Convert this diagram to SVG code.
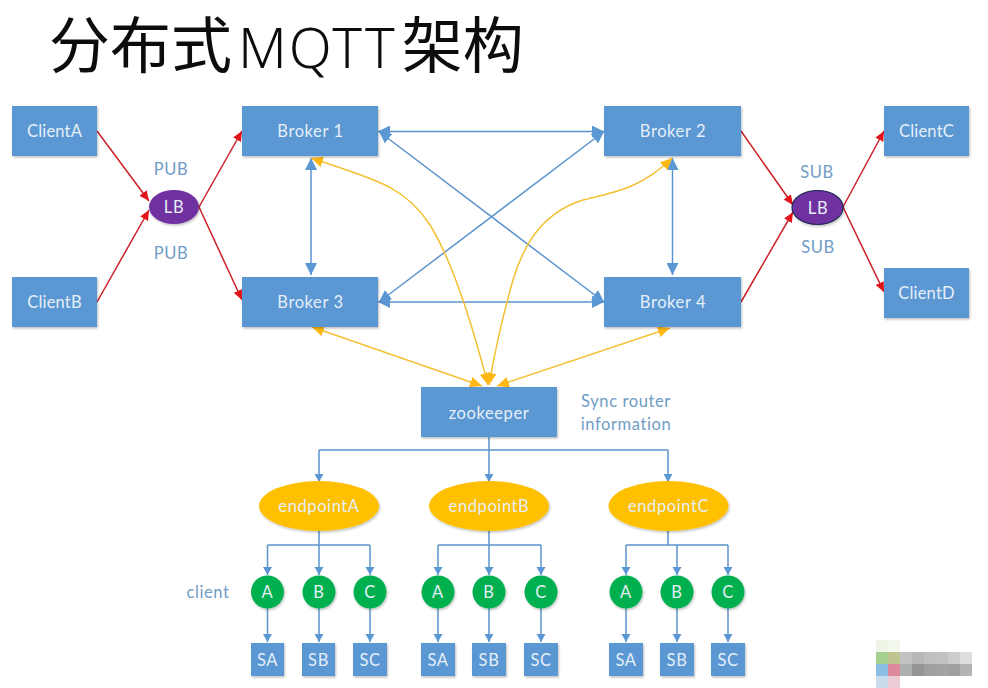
<svg xmlns="http://www.w3.org/2000/svg" width="988" height="688" viewBox="0 0 988 688">
<style>
text{font-family:"Lato","Noto Sans",sans-serif;text-anchor:middle;letter-spacing:.6px}
.b{fill:#5a97d3;filter:url(#s)}
.w{fill:#e6eff8;font-size:16.5px}
.cl{letter-spacing:.2px}
.l{fill:#6f9cc6;font-size:16.5px}
.e{fill:#ffc000;filter:url(#s)}
.g{fill:#00b050;filter:url(#s)}
.p{fill:#7030a0;filter:url(#s)}
.po{stroke:#1c2a55;stroke-width:1.2}
.cb{fill:none;stroke:#5b94cc;stroke-width:1.5}
.bi{marker-start:url(#ab);marker-end:url(#ab)}
.one{marker-end:url(#as)}
.cr{fill:none;stroke:#cc2027;stroke-width:1.5;marker-end:url(#ar)}
.cy{fill:none;stroke:#f4c032;stroke-width:1.5;marker-start:url(#ay);marker-end:url(#ay)}
.t{font-family:"Noto Sans CJK SC","Noto Sans",sans-serif;font-size:61px;font-weight:400;letter-spacing:0;fill:#0c0c0c;text-anchor:start}
.tl{font-family:"Noto Sans",sans-serif;font-size:56px;font-weight:300;letter-spacing:2px}
</style>
<defs>
<filter id="s" x="-10%" y="-10%" width="125%" height="130%"><feDropShadow dx="1" dy="1.5" stdDeviation="1.2" flood-color="#000" flood-opacity=".25"/></filter>
<marker id="ab" markerUnits="userSpaceOnUse" markerWidth="14" markerHeight="12" refX="12" refY="6" orient="auto-start-reverse"><path d="M0 0L12 6L0 12Z" fill="#5b97d3"/></marker>
<marker id="as" markerUnits="userSpaceOnUse" markerWidth="10" markerHeight="10" refX="8" refY="4.500" orient="auto"><path d="M0 0L8 4.500L0 9Z" fill="#5b97d3"/></marker>
<marker id="ar" markerUnits="userSpaceOnUse" markerWidth="12" markerHeight="10" refX="10" refY="4.500" orient="auto"><path d="M0 0L10 4.500L0 9Z" fill="#e0141a"/></marker>
<marker id="ay" markerUnits="userSpaceOnUse" markerWidth="14" markerHeight="12" refX="12" refY="5.500" orient="auto-start-reverse"><path d="M0 0L12 5.500L0 11Z" fill="#fdb813"/></marker>
</defs>
<rect width="988" height="688" fill="#fff"/>
<text id="title" class="t" x="49" y="68">分布式<tspan class="tl" dx="6">MQTT</tspan><tspan dx="5">架构</tspan></text>
<g id="connectors">
<path class="cb bi" d="M378 131.500H604"/>
<path class="cb bi" d="M378 302H604"/>
<path class="cb bi" d="M379 131.500L604 302"/>
<path class="cb bi" d="M604 131.500L379 302"/>
<path class="cb bi" d="M311 158V275"/>
<path class="cb bi" d="M672.500 158V275"/>
<path class="cr" d="M97 131L149 201"/>
<path class="cr" d="M97 302L149 210"/>
<path class="cr" d="M199 207L242 131"/>
<path class="cr" d="M199 207L242 300"/>
<path class="cr" d="M741 131L793 205"/>
<path class="cr" d="M741 302L793 212"/>
<path class="cr" d="M843 207L884 131"/>
<path class="cr" d="M843 207L884 292"/>
<path class="cy" d="M311 158C370 178 405 185 430 225C455 265 475 335 488 385"/>
<path class="cy" d="M672 158C640 190 610 193 583 200C545 212 525 240 513 280C503 315 495 350 489 385"/>
<path class="cy" d="M312 327L482 386"/>
<path class="cy" d="M670 328L497 386"/>
<path class="cb" d="M319 450H668"/>
<path class="cb one" d="M489 437V482"/>
<path class="cb one" d="M319 450V482"/>
<path class="cb one" d="M668 450V482"/>
<path class="cb" d="M267.500 545H370M438 545H541M626 545H728"/>
<path class="cb" d="M319 531V545M489 531V545M668 531V545"/>
<path class="cb one" d="M267.500 545V575"/><path class="cb one" d="M319 545V575"/><path class="cb one" d="M370 545V575"/>
<path class="cb one" d="M438 545V575"/><path class="cb one" d="M489 545V575"/><path class="cb one" d="M541 545V575"/>
<path class="cb one" d="M626 545V575"/><path class="cb one" d="M677 545V575"/><path class="cb one" d="M728 545V575"/>
<path class="cb one" d="M267.500 608V642"/><path class="cb one" d="M319 608V642"/><path class="cb one" d="M370 608V642"/>
<path class="cb one" d="M438 608V642"/><path class="cb one" d="M489 608V642"/><path class="cb one" d="M541 608V642"/>
<path class="cb one" d="M626 608V642"/><path class="cb one" d="M677 608V642"/><path class="cb one" d="M728 608V642"/>
</g>
<g id="clientA"><rect class="b" x="12" y="106" width="85" height="50"/><text class="w cl" x="54.500" y="137">ClientA</text></g>
<g id="clientB"><rect class="b" x="12" y="277" width="85" height="50"/><text class="w cl" x="54.500" y="308">ClientB</text></g>
<g id="clientC"><rect class="b" x="884" y="106" width="85" height="50"/><text class="w cl" x="926.500" y="137">ClientC</text></g>
<g id="clientD"><rect class="b" x="884" y="268" width="85" height="50"/><text class="w cl" x="926.500" y="299">ClientD</text></g>
<g id="broker1"><rect class="b" x="242" y="106" width="136" height="50"/><text class="w" x="310.500" y="137">Broker 1</text></g>
<g id="broker2"><rect class="b" x="604" y="106" width="137" height="50"/><text class="w" x="673" y="137">Broker 2</text></g>
<g id="broker3"><rect class="b" x="242" y="277" width="136" height="50"/><text class="w" x="310.500" y="308">Broker 3</text></g>
<g id="broker4"><rect class="b" x="604" y="277" width="137" height="50"/><text class="w" x="673" y="308">Broker 4</text></g>
<g id="lb1"><ellipse class="p" cx="174" cy="207" rx="25" ry="17"/><text class="w" x="174" y="213">LB</text></g>
<g id="lb2"><ellipse class="p po" cx="817.500" cy="207.500" rx="25.500" ry="17"/><text class="w" x="818" y="213.500">LB</text></g>
<g id="zookeeper"><rect class="b" x="421" y="387" width="136" height="50"/><text class="w" x="489" y="419">zookeeper</text></g>
<g id="endpointA"><ellipse class="e" cx="319" cy="506" rx="60" ry="25"/><text class="w" x="319" y="512">endpointA</text></g>
<g id="endpointB"><ellipse class="e" cx="489" cy="506" rx="60" ry="25"/><text class="w" x="489" y="512">endpointB</text></g>
<g id="endpointC"><ellipse class="e" cx="668.500" cy="506" rx="60" ry="25"/><text class="w" x="668.500" y="512">endpointC</text></g>
<g id="a1"><circle class="g" cx="267.500" cy="592" r="16.500"/><text class="w" x="267.500" y="598">A</text></g>
<g id="b1"><circle class="g" cx="319" cy="592" r="16.500"/><text class="w" x="319" y="598">B</text></g>
<g id="c1"><circle class="g" cx="370" cy="592" r="16.500"/><text class="w" x="370" y="598">C</text></g>
<g id="a2"><circle class="g" cx="438" cy="592" r="16.500"/><text class="w" x="438" y="598">A</text></g>
<g id="b2"><circle class="g" cx="489" cy="592" r="16.500"/><text class="w" x="489" y="598">B</text></g>
<g id="c2"><circle class="g" cx="541" cy="592" r="16.500"/><text class="w" x="541" y="598">C</text></g>
<g id="a3"><circle class="g" cx="626" cy="592" r="16.500"/><text class="w" x="626" y="598">A</text></g>
<g id="b3"><circle class="g" cx="677" cy="592" r="16.500"/><text class="w" x="677" y="598">B</text></g>
<g id="c3"><circle class="g" cx="728" cy="592" r="16.500"/><text class="w" x="728" y="598">C</text></g>
<g id="sa1"><rect class="b" x="251" y="643" width="33" height="33"/><text class="w" x="267.500" y="666">SA</text></g>
<g id="sb1"><rect class="b" x="302" y="643" width="33" height="33"/><text class="w" x="318.500" y="666">SB</text></g>
<g id="sc1"><rect class="b" x="353" y="643" width="34" height="33"/><text class="w" x="370" y="666">SC</text></g>
<g id="sa2"><rect class="b" x="421" y="643" width="34" height="33"/><text class="w" x="438" y="666">SA</text></g>
<g id="sb2"><rect class="b" x="472" y="643" width="34" height="33"/><text class="w" x="489" y="666">SB</text></g>
<g id="sc2"><rect class="b" x="524" y="643" width="34" height="33"/><text class="w" x="541" y="666">SC</text></g>
<g id="sa3"><rect class="b" x="609" y="643" width="34" height="33"/><text class="w" x="626" y="666">SA</text></g>
<g id="sb3"><rect class="b" x="660" y="643" width="34" height="33"/><text class="w" x="677" y="666">SB</text></g>
<g id="sc3"><rect class="b" x="711" y="643" width="34" height="33"/><text class="w" x="728" y="666">SC</text></g>
<g id="labels">
<text class="l" x="171" y="175">PUB</text>
<text class="l" x="171" y="259">PUB</text>
<text class="l" x="817" y="178">SUB</text>
<text class="l" x="818" y="253">SUB</text>
<text class="l" x="626" y="407">Sync router</text>
<text class="l" x="626" y="430">information</text>
<text class="l" x="208" y="598">client</text>
</g>
<g id="pixels">
<rect x="876" y="640" width="12" height="12" fill="#eef5e6"/><rect x="888" y="640" width="12" height="12" fill="#f3f8ec"/>
<rect x="876" y="652" width="12" height="12" fill="#a6d08f"/><rect x="888" y="652" width="12" height="12" fill="#bfc38f"/>
<rect x="900" y="652" width="12" height="12" fill="#c2c2c2"/><rect x="912" y="652" width="12" height="12" fill="#b8b8b8"/><rect x="924" y="652" width="12" height="12" fill="#c0c0c0"/><rect x="936" y="652" width="12" height="12" fill="#c2c2c2"/><rect x="948" y="652" width="12" height="12" fill="#cccccc"/><rect x="960" y="652" width="12" height="12" fill="#dddddd"/>
<rect x="876" y="664" width="12" height="12" fill="#8cbfe6"/><rect x="888" y="664" width="12" height="12" fill="#de8a9c"/>
<rect x="900" y="664" width="12" height="12" fill="#adb0b0"/><rect x="912" y="664" width="12" height="12" fill="#959595"/><rect x="924" y="664" width="12" height="12" fill="#a0a0a0"/><rect x="936" y="664" width="12" height="12" fill="#a3a3a3"/><rect x="948" y="664" width="12" height="12" fill="#9f9f9f"/><rect x="960" y="664" width="12" height="12" fill="#b4b4b4"/>
<rect x="876" y="676" width="12" height="12" fill="#c8dcee"/><rect x="888" y="676" width="12" height="12" fill="#eccdd6"/>
</g>
</svg>
